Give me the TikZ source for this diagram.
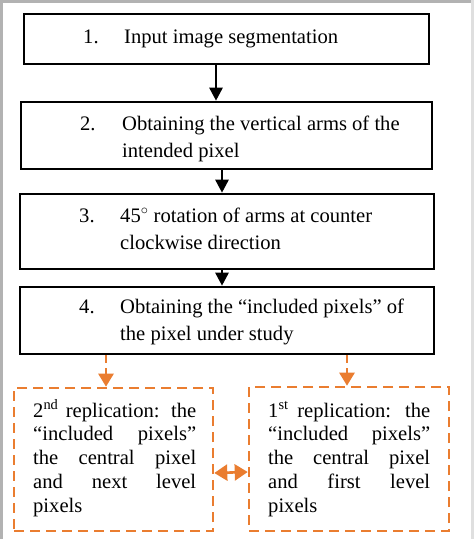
\documentclass[tikz,border=0pt]{standalone}
\usepackage{fontspec}
\setmainfont{Liberation Serif}
\usetikzlibrary{arrows.meta}
\definecolor{org}{RGB}{234,125,48}
\begin{document}
\begin{tikzpicture}[x=1pt,y=-1pt,
  box/.style={draw=black,line width=2.6pt,inner sep=0pt},
  obox/.style={draw=org,line width=2.6pt,dash pattern=on 10pt off 6pt,inner sep=0pt},
  txt/.style={anchor=base west,inner sep=0pt,font=\fontsize{20.6pt}{24pt}\selectfont},
  arr/.style={line width=2.6pt,-{Triangle[length=13pt,width=13pt]}},
  oarr/.style={draw=org,line width=2.6pt,dash pattern=on 8pt off 5pt,-{Triangle[length=13pt,width=15pt,fill=org]}},
  darr/.style={draw=org,line width=2.6pt,{Triangle[length=13pt,width=16pt,fill=org]}-{Triangle[length=13pt,width=16pt,fill=org]}}]
\useasboundingbox (0,0) rectangle (474,539);
\fill[white] (0,0) rectangle (474,539);
\fill[gray!60] (0,0) rectangle (474,2.5);
\fill[gray!60] (0,0) rectangle (2.5,539);
\fill[gray!25] (471,0) rectangle (474,539);
% boxes
\node[box,minimum width=405pt,minimum height=50pt] (b1) at (226.5,39) {};
\node[box,minimum width=411pt,minimum height=67pt] (b2) at (226.5,135.5) {};
\node[box,minimum width=414pt,minimum height=75pt] (b3) at (227,231.5) {};
\node[box,minimum width=414pt,minimum height=67pt] (b4) at (227,320.5) {};
\node[obox,minimum width=199pt,minimum height=143pt] (o1) at (113.5,459.5) {};
\node[obox,minimum width=200pt,minimum height=144pt] (o2) at (349,459) {};
% texts
\node[txt] (n1) at (83,43) {1.};
\node[txt] (t1) at (124,43) {Input image segmentation};
\node[txt] (n2) at (80,130) {2.};
\node[txt] (t2a) at (122,130) {Obtaining the vertical arms of the};
\node[txt] (t2b) at (122,157) {intended pixel};
\node[txt] (n3) at (79,222) {3.};
\node[txt] (t3a) at (120,222) {45$^\circ$ rotation of arms at counter};
\node[txt] (t3b) at (120,249) {clockwise direction};
\node[txt] (n4) at (79,313) {4.};
\node[txt] (t4a) at (120,313) {Obtaining the “included pixels” of};
\node[txt] (t4b) at (120,340) {the pixel under study};
\node[txt] (l1) at (33,417) {\makebox[163pt][s]{2\textsuperscript{nd} replication: the}};
\node[txt] (l2) at (33,440.5) {\makebox[163pt][s]{“included pixels”}};
\node[txt] (l3) at (33,464) {\makebox[163pt][s]{the central pixel}};
\node[txt] (l4) at (33,488) {\makebox[163pt][s]{and next level}};
\node[txt] (l5) at (33,512) {pixels};
\node[txt] (r1) at (268,417) {\makebox[162pt][s]{1\textsuperscript{st} replication: the}};
\node[txt] (r2) at (268,440.5) {\makebox[162pt][s]{“included pixels”}};
\node[txt] (r3) at (268,464) {\makebox[162pt][s]{the central pixel}};
\node[txt] (r4) at (268,488) {\makebox[162pt][s]{and first level}};
\node[txt] (r5) at (268,512) {pixels};
% connectors
\draw[arr] ([xshift=-10.5pt]b1.south) -- ([xshift=-10.5pt]b2.north);
\draw[arr] ([xshift=-4.5pt]b2.south) -- ([xshift=-5pt]b3.north);
\draw[arr] ([xshift=-5pt]b3.south) -- ([xshift=-5pt]b4.north);
\draw[oarr] ([xshift=-121pt]b4.south) -- ([xshift=-7.5pt]o1.north);
\draw[oarr] ([xshift=120pt]b4.south) -- ([xshift=-2pt]o2.north);
\draw[darr] ([yshift=-13.5pt]o1.east) -- ([yshift=-13pt]o2.west);
\end{tikzpicture}
\end{document}
